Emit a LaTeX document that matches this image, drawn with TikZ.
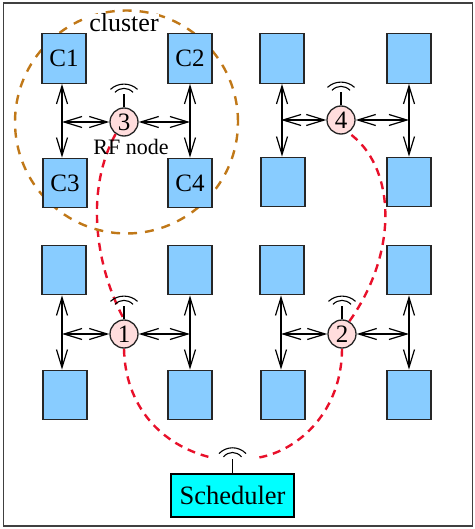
\documentclass[tikz,border=0pt]{standalone}
\usepackage{fontspec}
\setmainfont{Liberation Serif}
\usetikzlibrary{arrows.meta,backgrounds}
\definecolor{boxblue}{HTML}{88CCFF}
\definecolor{rfpink}{HTML}{FFDDDD}
\definecolor{schedcyan}{HTML}{00FFFF}
\definecolor{clusterbrown}{HTML}{C07818}
\definecolor{hopred}{HTML}{E8102A}
\definecolor{framegray}{HTML}{404040}
\begin{document}
\begin{tikzpicture}[x=1pt,y=-1pt]
	\tikzset{chip/.style={draw=black!85, fill=boxblue, line width=1.3pt, minimum width=44pt, minimum height=49.5pt, inner sep=0pt, font=\fontsize{25}{25}\selectfont}}
	\tikzset{rf/.style={circle, draw=black!85, fill=rfpink, line width=1.3pt, minimum size=28pt, inner sep=0pt, font=\fontsize{25}{25}\selectfont}}
	\tikzset{link/.style={line width=1.2pt, {Straight Barb[length=18pt,width=11pt]}-{Straight Barb[length=18pt,width=11pt]}}}
	\tikzset{hop/.style={hopred, line width=2.4pt, dash pattern=on 8pt off 6pt}}
	\tikzset{pics/antenna/.style={code={
		\draw[line width=1.1pt] (0,0) -- (0,-13);
		\draw[line width=1.1pt] (-9,-15) .. controls (-4,-20.3) and (4,-20.3) .. (9,-15);
		\draw[line width=1.1pt] (-13.5,-18) .. controls (-6,-25) and (6,-25) .. (13.5,-18);
	}}}
	\useasboundingbox (0,0) rectangle (474,529);
	\node[draw=framegray, line width=1.6pt, minimum width=469pt, minimum height=523pt, inner sep=0pt] (frame) at (238,264.5) {};
	\node[circle, draw=clusterbrown, line width=2.4pt, dash pattern=on 9pt off 8pt, minimum size=223pt, inner sep=0pt] (cluster) at (126.5,122) {};
	\node[fill=white, inner sep=0pt, font=\fontsize{26}{26}\selectfont] (clusterlbl) at (124,23) {cluster};
	% chips
	\node[chip] (C1) at (64,58.5) {C1};
	\node[chip] (C2) at (190,58.5) {C2};
	\node[chip] (C3) at (65,183) {C3};
	\node[chip] (C4) at (190,183) {C4};
	\node[chip] (tr1) at (282,58.5) {};
	\node[chip] (tr2) at (409,58.5) {};
	\node[chip] (tr3) at (283,182) {};
	\node[chip] (tr4) at (409,182) {};
	\node[chip] (bl1) at (64,270) {};
	\node[chip] (bl2) at (190,270) {};
	\node[chip] (bl3) at (65,395) {};
	\node[chip] (bl4) at (190,395) {};
	\node[chip] (br1) at (282,270) {};
	\node[chip] (br2) at (409,270) {};
	\node[chip] (br3) at (283,395) {};
	\node[chip] (br4) at (409,395) {};
	% RF nodes
	\node[rf] (n3) at (124,122) {3};
	\node[rf] (n4) at (341,120) {4};
	\node[rf] (n1) at (124,334) {1};
	\node[rf] (n2) at (342,334) {2};
	\node[draw=black, fill=schedcyan, line width=1.3pt, minimum width=123pt, minimum height=43pt, inner sep=0pt, font=\fontsize{26.5}{26.5}\selectfont] (sched) at (232.5,495.5) {Scheduler};
	\node[font=\fontsize{22}{22}\selectfont, inner sep=0pt] (rflbl) at (131,147) {RF node};
	\coordinate (gapl) at (211,457.5);
	\coordinate (gapr) at (259,457.5);
	% hops
	\begin{pgfonlayer}{background}
	\draw[hop] (n3.235) .. controls (85,190) and (95,265) .. (n1.north);
	\draw[hop] (n1.south) .. controls (125,405) and (160,445) .. (gapl);
	\draw[hop] (n2.south) .. controls (342,410) and (300,450) .. (gapr);
	\draw[hop] (n2.60) .. controls (400,250) and (395,165) .. (n4.-60);
	\end{pgfonlayer}
	% antennas
	\pic at (n3.north) {antenna};
	\pic at (n4.north) {antenna};
	\pic at (n1.north) {antenna};
	\pic at (n2.north) {antenna};
	\pic[yscale=1.1] at (sched.north) {antenna};
	% vertical links
	\draw[link] ([xshift=-2pt]C1.south) -- ([xshift=-3pt]C3.north);
	\draw[link] (C2.south) -- (C4.north);
	\draw[link] (tr1.south) -- ([xshift=-1pt]tr3.north);
	\draw[link] (tr2.south) -- (tr4.north);
	\draw[link] ([xshift=-2pt]bl1.south) -- ([xshift=-3pt]bl3.north);
	\draw[link] (bl2.south) -- (bl4.north);
	\draw[link] ([xshift=-1pt]br1.south) -- ([xshift=-2pt]br3.north);
	\draw[link] (br2.south) -- (br4.north);
	% horizontal links
	\coordinate (j3l) at (62,122);
	\coordinate (j3r) at (190,122);
	\coordinate (j4l) at (281,120);
	\coordinate (j4r) at (409,120);
	\coordinate (j1l) at (62,334);
	\coordinate (j1r) at (190,334);
	\coordinate (j2l) at (281,334);
	\coordinate (j2r) at (409,334);
	\draw[link] (j3l) -- (n3);
	\draw[link] (n3) -- (j3r);
	\draw[link] (j4l) -- (n4);
	\draw[link] (n4) -- (j4r);
	\draw[link] (j1l) -- (n1);
	\draw[link] (n1) -- (j1r);
	\draw[link] (j2l) -- (n2);
	\draw[link] (n2) -- (j2r);
\end{tikzpicture}
\end{document}
